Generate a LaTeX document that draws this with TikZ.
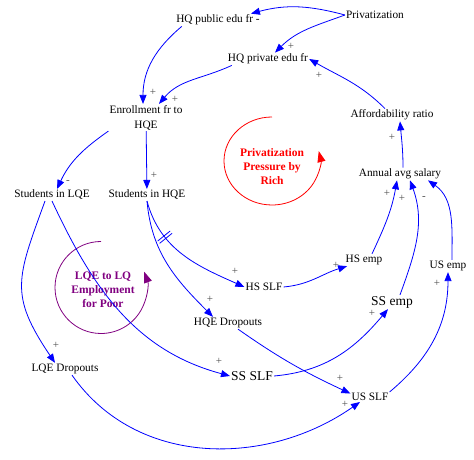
\documentclass[tikz,border=0pt]{standalone}
\usepackage{fontspec}
\setmainfont{Liberation Serif}
\usetikzlibrary{arrows.meta,decorations.markings}
\definecolor{poor}{HTML}{800080}

\begin{document}
\begin{tikzpicture}[x=1pt,y=1pt]
	\tikzset{var/.style={inner sep=1pt, align=center, font=\fontsize{11.3}{15}\selectfont},
		bigvar/.style={var, font=\fontsize{13.5}{16}\selectfont},
		lnk/.style={draw=blue, line width=0.8pt, -{Triangle[length=9pt,width=7pt]}},
		pol/.style={inner sep=0pt, text=black!70, font=\fontsize{11}{11}\selectfont},
		delay/.style={postaction={decorate}, decoration={markings, mark=at position #1 with {\draw[blue, line width=0.8pt, -] (-1.5pt,-8pt) -- (-1.5pt,8pt) (1.5pt,-8pt) -- (1.5pt,8pt);}}},
		loopname/.style={align=center, font=\bfseries\fontsize{11.5}{14}\selectfont}}

	\useasboundingbox (0,0) rectangle (474,460);

	\node[var] (priv) at (375,445) {Privatization};
	\node[var] (pub) at (218,440) {HQ public edu fr -};
	\node[var] (pri) at (268,401) {HQ private edu fr};
	\node[var] (enr) at (146,342.5) {Enrollment fr to\\HQE};
	\node[var] (aff) at (392,345) {Affordability ratio};
	\node[var] (sal) at (400,286) {Annual avg salary};
	\node[var] (slq) at (52,265) {Students in LQE};
	\node[var] (shq) at (147,265) {Students in HQE};
	\node[var] (hse) at (364,200) {HS emp};
	\node[var] (hsslf) at (264,173) {HS SLF};
	\node[var] (use) at (448,194) {US emp};
	\node[bigvar] (sse) at (392,158) {SS emp};
	\node[var] (hqedrop) at (228,137) {HQE Dropouts};
	\node[var] (lqedrop) at (65,91) {LQE Dropouts};
	\node[bigvar] (ssslf) at (252,84) {SS SLF};
	\node[var] (usslf) at (370,63) {US SLF};

	\draw[red, line width=0.8pt, -{Triangle[length=11pt,width=8pt]}] (272,343) arc[start angle=90, end angle=373, x radius=48, y radius=44];
	\node[loopname, text=red] (rich) at (272,293) {Privatization\\Pressure by\\Rich};

	\draw[poor, line width=0.8pt, -{Triangle[length=11pt,width=8pt]}] (101,218.5) arc[start angle=90, end angle=380, radius=46];
	\node[loopname, text=poor] (lqloop) at (103,170) {LQE to LQ\\Employment\\for Poor};

	\draw[lnk] (priv.west) to[out=165,in=15] ([xshift=-10pt]pub.north east);
	\draw[lnk] (priv.west) to[out=200,in=45] ([xshift=7pt]pri.north);

	\draw[lnk] (pub.190) to[out=220,in=90] ([xshift=-3pt]enr.north);
	\draw[lnk] (pri.190) to[out=205,in=50] ([xshift=13pt]enr.north);

	\draw[lnk] ([xshift=-7pt]aff.north) to[out=135,in=-30] (pri.east);
	\draw[lnk] ([xshift=3pt]sal.north) to[out=90,in=-85] ([xshift=8pt]aff.south);

	\draw[lnk] (enr) -- (shq);
	\draw[lnk] (enr.south west) to[out=215,in=65] ([xshift=5pt]slq.north);

	\draw[lnk, delay=0.3] (shq.south) to[out=-75,in=156] (hsslf.west);
	\draw[lnk] (shq.south) to[out=-85,in=135] ([xshift=-15pt]hqedrop.north);

	\draw[lnk] (slq.south) to[out=-65,in=165] (ssslf.west);
	\draw[lnk] ([xshift=-7pt]slq.south) to[out=-110,in=124,looseness=1.3] ([xshift=-10pt]lqedrop.north);

	\draw[lnk] (hsslf.east) to[out=5,in=197] (hse.200);
	\draw[lnk] ([xshift=8pt]hse.north) to[out=65,in=-100] ([xshift=-3pt]sal.south);
	\draw[lnk] ([xshift=8pt]sse.north) to[out=70,in=-70] ([xshift=10pt]sal.south);
	\draw[lnk] ([xshift=4pt]use.north) to[out=90,in=-35] ([xshift=28pt]sal.south);

	\draw[lnk] (ssslf.east) to[out=5,in=230] ([xshift=-4pt]sse.south);
	\draw[lnk] ([xshift=10pt]hqedrop.south) to[out=-35,in=155] (usslf.170);
	\draw[lnk] (usslf.north east) to[out=40,in=-90] (use.south);
	\draw[lnk] ([xshift=7pt]lqedrop.south) to[out=-55,in=215] ([xshift=-10pt]usslf.south);

	\node[pol] (p1) at (291,414) {+};
	\node[pol] (p2) at (153,368) {+};
	\node[pol] (p3) at (175,361) {+};
	\node[pol] (p4) at (319,385) {+};
	\node[pol] (p5) at (392,323) {+};
	\node[pol] (p6) at (154,285) {+};
	\node[pol] (p7) at (68,278) {-};
	\node[pol] (p8) at (235,189) {+};
	\node[pol] (p9) at (210,161) {+};
	\node[pol] (p10) at (219,99) {+};
	\node[pol] (p11) at (56,115) {+};
	\node[pol] (p12) at (336,195) {+};
	\node[pol] (p13) at (387,267) {+};
	\node[pol] (p14) at (402,262) {+};
	\node[pol] (p15) at (424,262) {-};
	\node[pol] (p16) at (372,147) {+};
	\node[pol] (p17) at (340,82) {+};
	\node[pol] (p18) at (437,177) {+};
	\node[pol] (p19) at (345,56) {+};
\end{tikzpicture}
\end{document}
